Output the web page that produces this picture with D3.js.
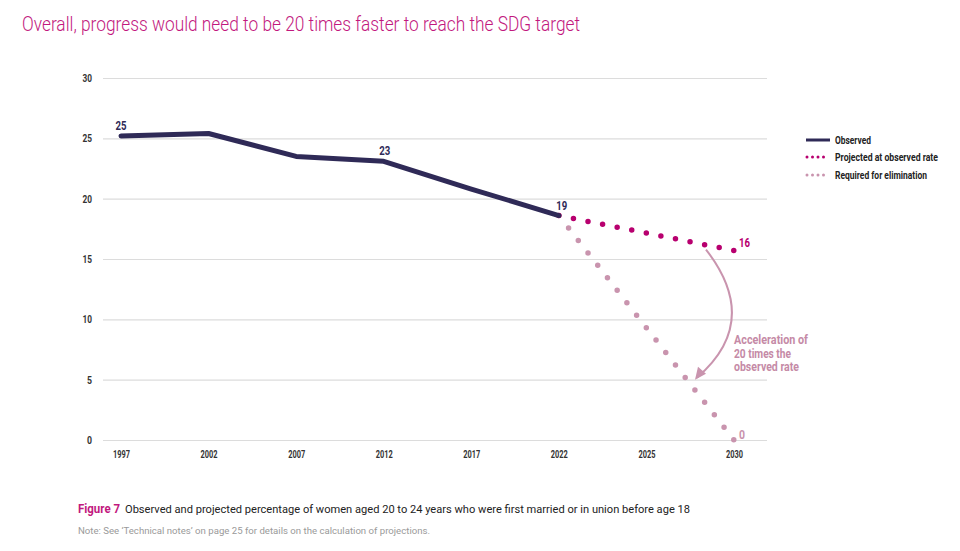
<!DOCTYPE html>
<html><head><meta charset="utf-8">
<script src="https://cdn.jsdelivr.net/npm/d3@7"></script>
<style>
body{margin:0;background:#fff;}
svg{display:block;}
</style></head>
<body><svg id="c" width="960" height="551"></svg>
<script>
const years = ["1997","2002","2007","2012","2017","2022","2025","2030"];
const yTicks = [0,5,10,15,20,25,30];
const observedYears = ["1997","2002","2007","2012","2017","2022"];
const observedValues = [25.2,25.4,23.5,23.1,20.8,18.6];
const projectedYears = ["2022","2030"];
const projectedValues = [18.6,15.7];
const requiredYears = ["2022","2030"];
const requiredValues = [18.6,0];
const legendLabels = ["Observed","Projected at observed rate","Required for elimination"];

const font = "Roboto,'DejaVu Sans',sans-serif";
const navy = "#2f2a57", magenta = "#b8006f", pink = "#c994ae", titleC = "#c2187e";

const svg = d3.select("#c").style("font-family", font);
const x = d3.scalePoint().domain(years).range([121,734]);
const y = d3.scaleLinear().domain([0,30]).range([440,78]);

// fit a text to a given width by condensing glyphs
function fit(sel, w){ return sel.attr("textLength", w).attr("lengthAdjust","spacingAndGlyphs"); }

fit(svg.append("text").attr("x",22).attr("y",31).attr("fill",titleC)
  .attr("font-size",21).attr("font-weight",300)
  .text("Overall, progress would need to be 20 times faster to reach the SDG target"), 558);

// grid
const yAxis = d3.axisLeft(y).tickValues(yTicks).tickSize(-664).tickPadding(11);
const gy = svg.append("g").attr("transform","translate(103,0)").call(yAxis);
gy.select(".domain").remove();
gy.selectAll(".tick line").attr("stroke","#dcdcdc").attr("stroke-width",1.2);
gy.selectAll(".tick text").attr("fill","#333").attr("font-size",10.5).attr("font-weight","bold").attr("font-family",font)
  .each(function(d){ fit(d3.select(this), d<10 ? 5 : 9.5); });

const xAxis = d3.axisBottom(x).tickSize(0).tickPadding(8);
const gx = svg.append("g").attr("transform","translate(0,443)").call(xAxis);
gx.select(".domain").remove();
gx.selectAll(".tick text").attr("fill","#333").attr("font-size",10.5).attr("font-weight","bold").attr("font-family",font)
  .each(function(){ fit(d3.select(this), 17); });

const line = d3.line().x(d=>x(d[0])).y(d=>y(d[1]));

function dotted(path, n){
  const L = path.node().getTotalLength();
  path.attr("stroke-dasharray", `0 ${L/n - 0.02}`);
}
// required
dotted(svg.append("path").datum(d3.zip(requiredYears, requiredValues)).attr("d",line)
  .attr("fill","none").attr("stroke",pink).attr("stroke-width",5.5)
  .attr("stroke-linecap","round"), 18);
// projected
dotted(svg.append("path").datum(d3.zip(projectedYears, projectedValues)).attr("d",line)
  .attr("fill","none").attr("stroke",magenta).attr("stroke-width",5.5)
  .attr("stroke-linecap","round"), 12);
// observed
svg.append("path").datum(d3.zip(observedYears, observedValues)).attr("d",line)
  .attr("fill","none").attr("stroke",navy).attr("stroke-width",5)
  .attr("stroke-linecap","round").attr("stroke-linejoin","round");

// labels
const lab = (xx,yy,t,c,anchor,w)=>fit(svg.append("text").attr("x",xx).attr("y",yy).attr("fill",c)
  .attr("font-size",12.5).attr("font-weight","bold").attr("text-anchor",anchor||"middle").text(t), w);
lab(x("1997"), y(observedValues[0])-6, "25", navy, "middle", 11);
lab(x("2012")+1, y(observedValues[3])-6, "23", navy, "middle", 11);
lab(x("2022")+3, y(observedValues[5])-6, "19", navy, "middle", 11);
lab(x("2030")+5, y(projectedValues[1])-4, "16", magenta, "start", 11);
lab(x("2030")+5, y(0)-1, "0", pink, "start", 6);

// annotation arrow
const ax0 = x("2030")-28, ay0 = y(projectedValues[1])-1;
const ax1 = x("2030")-37, ay1 = y(5)-2;
svg.append("path").attr("d",`M${ax0},${ay0} Q${ax0+56},${ay0+72} ${ax1},${ay1}`)
  .attr("fill","none").attr("stroke",pink).attr("stroke-width",2);
svg.append("path").attr("d",`M${ax1-2},${ay1+2} L${ax1+1},${ay1-11} L${ax1+9},${ay1-4} Z`)
  .attr("fill",pink);
const annLines = ["Acceleration of","20 times the","observed rate"];
const annW = [74,57,65];
annLines.forEach((t,i)=>fit(svg.append("text").attr("x",734).attr("y",344+i*13.5)
  .attr("fill","#c58aa6").attr("font-size",12).attr("font-weight","bold").text(t), annW[i]));

// legend
const lg = svg.append("g");
const ly = [140,157,175];
const lw = [36,103,92];
lg.append("line").attr("x1",806).attr("x2",830).attr("y1",ly[0]).attr("y2",ly[0]).attr("stroke",navy).attr("stroke-width",3);
lg.append("line").attr("x1",807).attr("x2",829).attr("y1",ly[1]).attr("y2",ly[1]).attr("stroke",magenta).attr("stroke-width",3)
  .attr("stroke-linecap","round").attr("stroke-dasharray","0 5.5");
lg.append("line").attr("x1",807).attr("x2",829).attr("y1",ly[2]).attr("y2",ly[2]).attr("stroke",pink).attr("stroke-width",3)
  .attr("stroke-linecap","round").attr("stroke-dasharray","0 5.5");
legendLabels.forEach((t,i)=>fit(lg.append("text").attr("x",835).attr("y",ly[i]+3.5).attr("fill","#222")
  .attr("font-size",10).attr("font-weight","bold").text(t), lw[i]));

// caption
fit(svg.append("text").attr("x",78).attr("y",513).attr("font-size",12.5).attr("fill",titleC)
  .attr("font-weight","bold").text("Figure 7"), 42);
fit(svg.append("text").attr("x",125).attr("y",513).attr("font-size",11.5).attr("fill","#222")
  .text("Observed and projected percentage of women aged 20 to 24 years who were first married or in union before age 18"), 565);
fit(svg.append("text").attr("x",78).attr("y",534).attr("font-size",9.5).attr("fill","#9a9a9a")
  .text("Note: See \u2018Technical notes\u2019 on page 25 for details on the calculation of projections."), 352);
</script></body></html>
